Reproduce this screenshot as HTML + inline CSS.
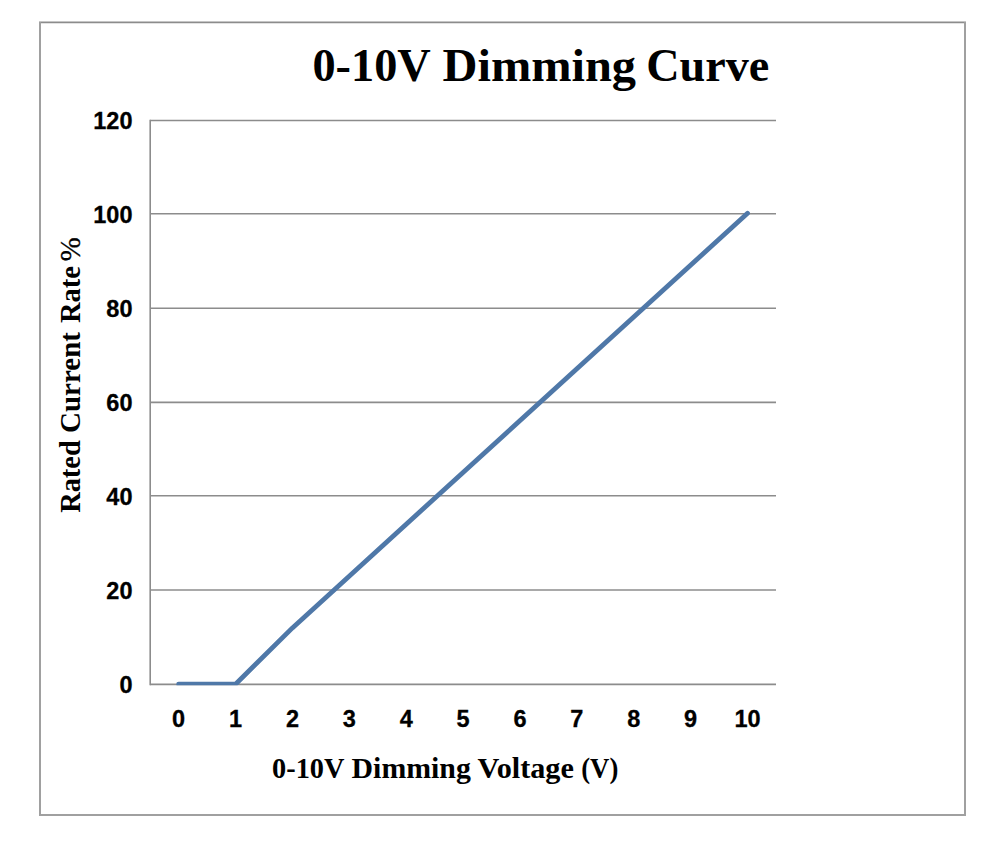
<!DOCTYPE html>
<html><head><meta charset="utf-8"><style>
html,body{margin:0;padding:0;background:#fff;width:1000px;height:851px;overflow:hidden}
svg{display:block}
.tk{font-family:"Liberation Sans",sans-serif;font-weight:bold;font-size:23.5px;fill:#000;stroke:#000;stroke-width:0.3px}
.sf{font-family:"Liberation Serif",serif;font-weight:bold;fill:#000}
</style></head><body>
<svg width="1000" height="851" viewBox="0 0 1000 851">
<rect x="0" y="0" width="1000" height="851" fill="#fff"/>
<g stroke="#a0a0a0" fill="none">
<line x1="39" y1="22.4" x2="966" y2="22.4" stroke-width="1.6" stroke="#8c8c8c"/>
<line x1="40" y1="22" x2="40" y2="816" stroke-width="2"/>
<line x1="965" y1="22" x2="965" y2="816" stroke-width="2"/>
<line x1="39" y1="815" x2="966" y2="815" stroke-width="2"/>
</g>
<g stroke="#8c8c8c" stroke-width="1.6"><line x1="150.2" y1="590.00" x2="776" y2="590.00"/><line x1="150.2" y1="495.80" x2="776" y2="495.80"/><line x1="150.2" y1="402.40" x2="776" y2="402.40"/><line x1="150.2" y1="308.30" x2="776" y2="308.30"/><line x1="150.2" y1="213.70" x2="776" y2="213.70"/><line x1="150.2" y1="120.50" x2="776" y2="120.50"/></g>
<line x1="150.2" y1="119.7" x2="150.2" y2="685.1999999999999" stroke="#8c8c8c" stroke-width="1.6"/>
<line x1="150.2" y1="684.4" x2="776" y2="684.4" stroke="#8c8c8c" stroke-width="1.6"/>
<defs><clipPath id="pa"><rect x="150.2" y="116.5" width="629.8" height="568.6999999999999"/></clipPath></defs>
<polyline clip-path="url(#pa)" points="178.64,684.20 235.53,684.20 292.42,627.90 747.55,213.29" fill="none" stroke="#4f78a8" stroke-width="4.8" stroke-linejoin="round" stroke-linecap="round"/>
<g class="tk"><text x="132.5" y="692.81" text-anchor="end">0</text><text x="132.5" y="598.85" text-anchor="end">20</text><text x="132.5" y="504.89" text-anchor="end">40</text><text x="132.5" y="410.93" text-anchor="end">60</text><text x="132.5" y="316.97" text-anchor="end">80</text><text x="132.5" y="223.01" text-anchor="end">100</text><text x="132.5" y="129.05" text-anchor="end">120</text><text x="178.64" y="726.5" text-anchor="middle">0</text><text x="235.53" y="726.5" text-anchor="middle">1</text><text x="292.42" y="726.5" text-anchor="middle">2</text><text x="349.31" y="726.5" text-anchor="middle">3</text><text x="406.20" y="726.5" text-anchor="middle">4</text><text x="463.09" y="726.5" text-anchor="middle">5</text><text x="519.99" y="726.5" text-anchor="middle">6</text><text x="576.88" y="726.5" text-anchor="middle">7</text><text x="633.76" y="726.5" text-anchor="middle">8</text><text x="690.65" y="726.5" text-anchor="middle">9</text><text x="747.55" y="726.5" text-anchor="middle">10</text></g>
<g class="sf" font-size="46">
<text x="312.4" y="80.5" textLength="118.37" lengthAdjust="spacingAndGlyphs">0-10V</text>
<text x="442.6" y="80.5" textLength="193.45" lengthAdjust="spacingAndGlyphs">Dimming</text>
<text x="646.2" y="80.5" textLength="123.06" lengthAdjust="spacingAndGlyphs">Curve</text>
</g>
<g class="sf" font-size="29.6">
<text x="272.1" y="777.8" textLength="72.36" lengthAdjust="spacingAndGlyphs">0-10V</text>
<text x="351.6" y="777.8" textLength="119.19" lengthAdjust="spacingAndGlyphs">Dimming</text>
<text x="477.6" y="777.8" textLength="96.29" lengthAdjust="spacingAndGlyphs">Voltage</text>
<text x="581.2" y="777.8" textLength="37.1" lengthAdjust="spacingAndGlyphs">(V)</text>
</g>
<g class="sf" font-size="29" transform="translate(80,513.5) rotate(-90)">
<text x="0.7" y="0" textLength="72.51" lengthAdjust="spacingAndGlyphs">Rated</text>
<text x="80.5" y="0" textLength="100.96" lengthAdjust="spacingAndGlyphs">Current</text>
<text x="190.5" y="0" textLength="56.97" lengthAdjust="spacingAndGlyphs">Rate</text>
<text x="252.3" y="0" textLength="24" lengthAdjust="spacingAndGlyphs" font-weight="normal" stroke="#000" stroke-width="0.35">%</text>
</g>
</svg>
</body></html>
